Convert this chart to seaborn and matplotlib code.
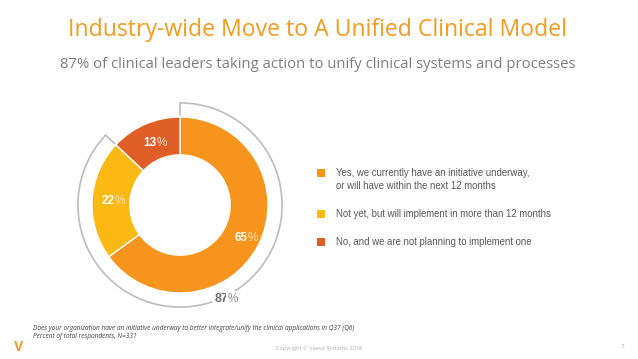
import numpy as np
import matplotlib
matplotlib.use("Agg")
import matplotlib.pyplot as plt
import seaborn as sns
from matplotlib.patches import Arc, Rectangle

# ---- data ----
categories = [
    "Yes, we currently have an initiative underway,\nor will have within the next 12 months",
    "Not yet, but will implement in more than 12 months",
    "No, and we are not planning to implement one",
]
values = [65, 22, 13]
colors = ["#F7941D", "#FDB913", "#DF5E27"]
bracket_value = 87  # Yes + Not yet
title = "Industry-wide Move to A Unified Clinical Model"
subtitle = "87% of clinical leaders taking action to unify clinical systems and processes"
footnote1 = "Does your organization have an initiative underway to better integrate/unify the clinical applications in Q37 (Q6)"
footnote2 = "Percent of total respondents, N=331"
copyright_txt = "Copyright \u00a9 Veeva Systems 2018"
page_no = "3"

sns.set_theme(style="white")
plt.rcParams["font.family"] = ["Liberation Sans", "DejaVu Sans"]

W, H = 638, 359
fig = plt.figure(figsize=(W / 100, H / 100), dpi=100)
fig.patch.set_facecolor("white")

# donut axes: centre (180,205) px, radius 88 px, limits +-1.3
cx, cy, R = 180, 205, 88
lim = 1.3
side = 2 * lim * R
ax = fig.add_axes([(cx - side / 2) / W, (H - cy - side / 2) / H, side / W, side / H])

wedges, _ = ax.pie(values, colors=colors, startangle=90, counterclock=False,
                   radius=1.0, wedgeprops=dict(width=0.43, edgecolor="white", linewidth=1.0))
ax.set_xlim(-lim, lim)
ax.set_ylim(-lim, lim)
ax.set_aspect("equal")
ax.axis("off")

# percentage labels
total = sum(values)
cum = 0
label_r = [0.82, 0.78, 0.77]
for v, r in zip(values, label_r):
    mid = 90 - 360 * (cum + v / 2) / total
    cum += v
    x, y = r * np.cos(np.radians(mid)), r * np.sin(np.radians(mid))
    ax.annotate(f"{v}", (x, y), xytext=(2.5, 0), textcoords="offset points",
                ha="right", va="center", color="white", fontsize=8.5, fontweight="bold")
    ax.annotate("%", (x, y), xytext=(2.5, 0), textcoords="offset points",
                ha="left", va="center", color="#FCE3C4", fontsize=8.5)

# bracket arc for 87%
br = 1.16
t1 = 90 - 360 * bracket_value / total
arc = Arc((0, 0), 2 * br, 2 * br, theta1=t1, theta2=90, color="#BDBDBD", lw=1.2)
ax.add_patch(arc)
for ang in (90, t1):
    a = np.radians(ang)
    ax.plot([br * np.cos(a), 1.02 * np.cos(a)], [br * np.sin(a), 1.02 * np.sin(a)],
            color="#BDBDBD", lw=1.2)
# 87% label
la = np.radians(-64)
lx, ly = 1.19 * np.cos(la), 1.19 * np.sin(la)
ax.annotate(f"{bracket_value}", (lx, ly), xytext=(1.5, 0), textcoords="offset points",
            ha="right", va="center", color="#6D6E71", fontsize=9, fontweight="bold",
            bbox=dict(facecolor="white", edgecolor="none", pad=1.5))
ax.annotate("%", (lx, ly), xytext=(1.5, 0), textcoords="offset points",
            ha="left", va="center", color="#8C8C8C", fontsize=8.5,
            bbox=dict(facecolor="white", edgecolor="none", pad=1.5))

# legend (manual)
leg_y = [173, 214, 242]
for cat, col, yy in zip(categories, colors, leg_y):
    s = 8
    fig.patches.append(Rectangle(((321 - s / 2) / W, (H - yy - s / 2) / H), s / W, s / H,
                                 transform=fig.transFigure, facecolor=col, edgecolor="none"))
    for i, line in enumerate(cat.split("\n")):
        fig.text(336 / W, (H - yy - 13 * i) / H, line, ha="left", va="center",
                 fontsize=6.9, color="#595959")

# titles
fig.text(317 / W, 1 - 30 / H, title, ha="center", va="center", color="#F39C1F",
         fontsize=16.6, family=["Open Sans", "DejaVu Sans"])
fig.text(318 / W, 1 - 65 / H, subtitle, ha="center", va="center", color="#7F7F7F",
         fontsize=10.75, family=["Open Sans", "DejaVu Sans"])

# footnotes
fig.text(33 / W, 1 - 329 / H, footnote1, ha="left", va="center", color="#404040",
         fontsize=4.7, style="italic", family=["Open Sans", "DejaVu Sans"])
fig.text(33 / W, 1 - 337 / H, footnote2, ha="left", va="center", color="#404040",
         fontsize=4.7, style="italic", family=["Open Sans", "DejaVu Sans"])
fig.text(319 / W, 1 - 348 / H, copyright_txt, ha="center", va="center", color="#B0B0B0",
         fontsize=4.1, family=["Open Sans", "DejaVu Sans"])
fig.text(622 / W, 1 - 347 / H, page_no, ha="center", va="center", color="#B0B0B0",
         fontsize=4.5, family=["Open Sans", "DejaVu Sans"])
fig.text(19 / W, 1 - 347 / H, "V", ha="center", va="center", color="#F7941D",
         fontsize=10, fontweight="bold")

fig.savefig("out.png", dpi=100, facecolor="white")
